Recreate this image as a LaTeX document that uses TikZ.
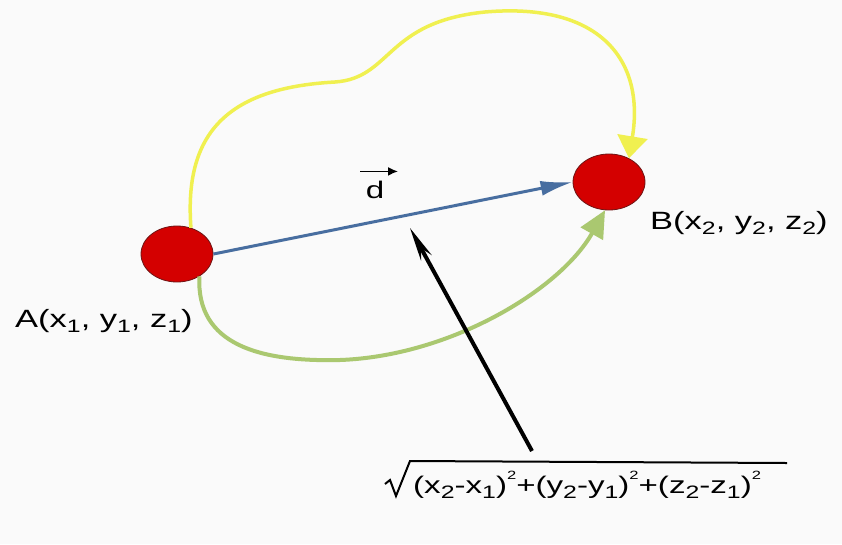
\documentclass[tikz,border=0pt]{standalone}
\usepackage{fontspec}
\usetikzlibrary{shapes.geometric,arrows.meta,positioning,calc}
\newfontfamily\lblfont{Liberation Sans}[FakeStretch=1.38]
\newcommand{\lowsub}[1]{\raisebox{-0.42ex}{\fontsize{18}{20}\selectfont#1}}
\newcommand{\sq}{\raisebox{1.05ex}{\fontsize{12}{14}\selectfont2}}

\begin{document}
\begin{tikzpicture}[
            x=1pt,y=-1pt,
            point/.style={ellipse,fill=pointred,draw=pointrim,line width=0.8pt,
                minimum width=72pt,minimum height=56pt,inner sep=0pt},
            label/.style={font=\lblfont\fontsize{25}{30}\selectfont,inner sep=0pt},
            path/.style={line width=3.5pt},
            vector/.style={line width=3pt}
        ]

        % Define colors
        \definecolor{pointred}{RGB}{212,0,0}
        \definecolor{pointrim}{RGB}{110,20,20}
        \definecolor{pathyellow}{RGB}{240,240,80}
        \definecolor{pathgreen}{RGB}{170,200,112}
        \definecolor{vecblue}{RGB}{72,110,160}
        \definecolor{paper}{RGB}{250,250,250}

        % Background
        \fill[paper] (0,0) rectangle (842,544);
        \useasboundingbox (0,0) rectangle (842,544);

        % The two points
        \node[point] (A) at (177,254) {};
        \node[point] (B) at (609,182) {};

        % Point labels
        \node[label,anchor=base west] (labA) at (15,327) {A(x\lowsub{1}, y\lowsub{1}, z\lowsub{1})};
        \node[label,anchor=base west] (labB) at (650,229) {B(x\lowsub{2}, y\lowsub{2}, z\lowsub{2})};

        % Two arbitrary paths from A to B
        \draw[path,pathyellow,-{Triangle[length=22pt,width=30pt]}] (A.62)
            .. controls (184,135) and (225,88) .. (335,82)
            .. controls (392,78) and (385,22) .. (485,12)
            .. controls (600,2) and (645,60) .. (B.50);
        \draw[path,pathgreen,line width=4pt,-{Triangle[length=27pt,width=25pt]}] (A.-45)
            .. controls (196,345) and (260,362) .. (340,360)
            .. controls (450,356) and (560,290) .. (B.-98);

        % Straight vector d from A to B
        \draw[vector,vecblue,-{Latex[length=32pt,width=15pt]}] (A.east) -- (B.west);
        \node[label,font=\lblfont\fontsize{24}{28}\selectfont,anchor=base] (dlab) at (375,198) {d};
        \draw[line width=1.6pt,-{Latex[length=10pt,width=9pt]}]
            ($(dlab.north)+(-15,-9)$) -- ($(dlab.north)+(23,-9)$);

        % Length of d
        \node[label,font=\lblfont\fontsize{24}{29}\selectfont,anchor=base west] (dist) at (413,493)
            {(x\lowsub{2}-x\lowsub{1})\sq+(y\lowsub{2}-y\lowsub{1})\sq+(z\lowsub{2}-z\lowsub{1})\sq};
        \draw[line width=2pt,line join=miter] (385,484) -- (390,480) -- (396,496) -- (410,461) -- (787,463);

        \coordinate (foot) at (532,451);
        \coordinate (head) at (410,228);
        \draw[line width=4pt,-{Stealth[length=34pt,width=12pt]}] (foot) -- (head);

        \end{tikzpicture}
\end{document}
